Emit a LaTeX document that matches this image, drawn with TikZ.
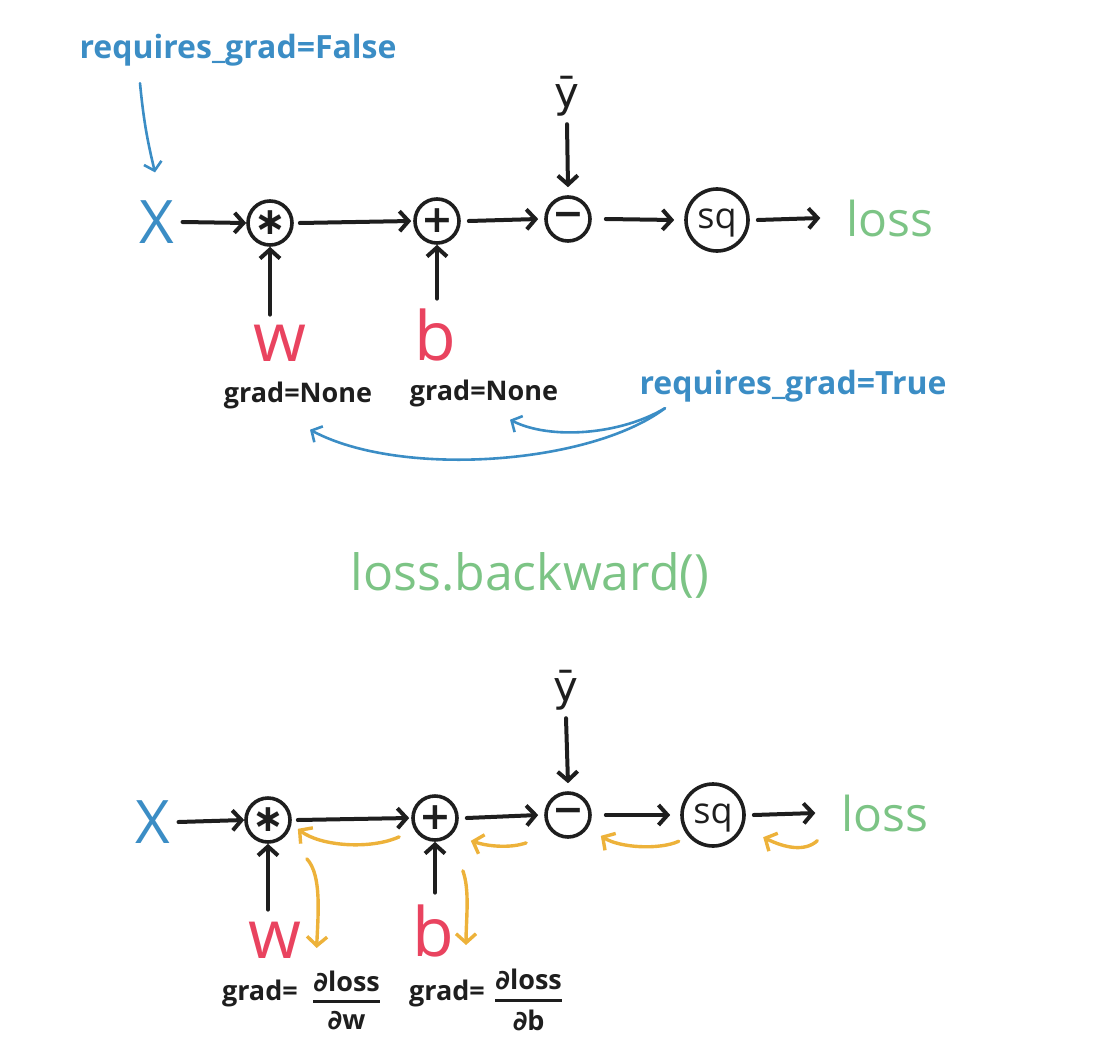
\documentclass[tikz,border=0pt]{standalone}
\usepackage{fontspec}
\usepackage{amsmath}
\setmainfont{Open Sans}
\newfontfamily\dfont{DejaVu Sans}
\usetikzlibrary{arrows.meta}
\definecolor{inkblk}{HTML}{1E1E1E}
\definecolor{skblue}{HTML}{3B8DC5}
\definecolor{skred}{HTML}{E9435F}
\definecolor{skgreen}{HTML}{7CC485}
\definecolor{skorange}{HTML}{EDB23A}
\begin{document}
\begin{tikzpicture}[x=1pt,y=-1pt,
  ink/.style={line width=4pt, draw=inkblk, line cap=round, line join=round},
  fwd/.style={ink, -{Straight Barb[length=9pt,width=20pt]}},
  bluearr/.style={line width=2.6pt, draw=skblue, line cap=round, line join=round, -{Straight Barb[length=8pt,width=18pt]}},
  orarr/.style={line width=3.4pt, draw=skorange, line cap=round, line join=round, -{Straight Barb[length=9pt,width=20pt]}},
  op/.style={circle, draw=inkblk, line width=3.6pt, minimum size=44pt, inner sep=0pt, text=inkblk, font=\fontsize{38}{40}\selectfont\dfont\bfseries},
  bigop/.style={op, minimum size=62pt, font=\fontsize{36}{38}\selectfont, text depth=2pt},
  var/.style={text=skblue, inner sep=0pt, font=\fontsize{60}{62}\selectfont},
  param/.style={text=skred, inner sep=0pt, font=\fontsize{68}{70}\selectfont},
  outtxt/.style={text=skgreen, inner sep=0pt, font=\fontsize{48}{50}\selectfont},
  note/.style={text=skblue, inner sep=0pt, font=\fontsize{32}{34}\selectfont\bfseries},
  gradtxt/.style={text=inkblk, inner sep=0pt, font=\fontsize{27}{29}\selectfont\bfseries},
  ybar/.style={text=inkblk, inner sep=0pt, font=\fontsize{42}{44}\selectfont\dfont},
]
\useasboundingbox (0,0) rectangle (1094,1054);

% ---------------- top graph ----------------
\node[note] (rgF) at (238,50) {requires\_grad=False};
\node[var] (X1) at (157,222) {X};
\node[op] (m1) at (270,223) {∗};
\node[op] (p1) at (437,221) {+};
\node[op] (s1) at (568,219) {−};
\node[bigop] (sq1) at (717,220) {sq};
\node[outtxt] (loss1) at (890,218) {loss};
\node[ybar] (yb1) at (567,96) {ȳ};
\node[param] (w1) at (280,343) {w};
\node[param] (b1) at (435,335) {b};
\node[gradtxt] (gn1a) at (298,395) {grad=None};
\node[gradtxt] (gn1b) at (484,393) {grad=None};
\node[note] (rgT) at (793,386) {requires\_grad=True};

\draw[bluearr] ([xshift=-98pt,yshift=-17pt]rgF.south) to[bend right=4] ([xshift=-2pt,yshift=28pt]X1.north);
\draw[fwd] ([xshift=8pt]X1.east) -- (m1.west);
\draw[fwd] ([xshift=6pt]m1.east) -- ([xshift=-2pt]p1.west);
\draw[fwd] ([xshift=8pt]p1.east) -- ([xshift=-6pt]s1.west);
\draw[fwd] ([xshift=14pt]s1.east) -- ([xshift=-10pt]sq1.west);
\draw[fwd] ([xshift=8pt]sq1.east) -- ([xshift=-26pt]loss1.west);
\draw[fwd] ([yshift=10pt]w1.north -| m1.south) -- (m1.south);
\draw[fwd] ([yshift=10pt]b1.north -| p1.south) -- (p1.south);
\draw[fwd] ([yshift=-8pt]yb1.south) -- ([yshift=8pt]s1.north);
\draw[bluearr] ([xshift=-128pt,yshift=-6pt]rgT.south) .. controls (620,435) and (550,440) .. ([xshift=26pt,yshift=-13pt]gn1b.south);
\draw[bluearr] ([xshift=-128pt,yshift=-6pt]rgT.south) .. controls (590,465) and (400,478) .. ([xshift=12pt,yshift=-21pt]gn1a.south);

% ---------------- middle ----------------
\node[outtxt, font=\fontsize{50}{52}\selectfont] (bw) at (530,575) {loss.backward()};

% ---------------- bottom graph ----------------
\node[var] (X2) at (153,822) {X};
\node[op] (m2) at (268,820) {∗};
\node[op] (p2) at (435,818) {+};
\node[op] (s2) at (568,815) {−};
\node[bigop] (sq2) at (713,815) {sq};
\node[outtxt] (loss2) at (885,813) {loss};
\node[ybar] (yb2) at (566,690) {ȳ};
\node[param] (w2) at (275,940) {w};
\node[param] (b2) at (433,931) {b};
\node[gradtxt, anchor=east] (gl2a) at (298,993) {grad=};
\node[gradtxt, anchor=west] (gf2a) at (312,1000) {$\genfrac{}{}{2.6pt}{0}{\text{\dfont ∂\rmfamily\bfseries loss}}{\text{\dfont ∂\rmfamily\bfseries w}}$};
\node[gradtxt, anchor=east] (gl2b) at (485,993) {grad=};
\node[gradtxt, anchor=west] (gf2b) at (494,1000) {$\genfrac{}{}{2.6pt}{0}{\text{\dfont ∂\rmfamily\bfseries loss}}{\text{\dfont ∂\rmfamily\bfseries b}}$};

\draw[fwd] ([xshift=8pt]X2.east) -- (m2.west);
\draw[fwd] ([xshift=6pt]m2.east) -- ([xshift=-2pt]p2.west);
\draw[fwd] ([xshift=8pt]p2.east) -- ([xshift=-6pt]s2.west);
\draw[fwd] ([xshift=14pt]s2.east) -- ([xshift=-10pt]sq2.west);
\draw[fwd] ([xshift=8pt]sq2.east) -- ([xshift=-26pt]loss2.west);
\draw[fwd] ([yshift=12pt]w2.north -| m2.south) -- (m2.south);
\draw[fwd] ([yshift=12pt]b2.north -| p2.south) -- (p2.south);
\draw[fwd] ([yshift=-8pt]yb2.south) -- ([yshift=8pt]s2.north);

% backward (orange) arrows
\draw[orarr] ([xshift=-19pt,yshift=-2pt]p2.south west) .. controls (370,850) and (320,846) .. ([xshift=13pt,yshift=8pt]m2.south east);
\draw[orarr] ([xshift=-25pt,yshift=-11pt]s2.south west) .. controls (512,848) and (490,847) .. ([xshift=19pt,yshift=-6pt]p2.south east);
\draw[orarr] ([xshift=-11pt,yshift=-3pt]sq2.south west) .. controls (660,850) and (620,848) .. ([xshift=16pt,yshift=-4pt]s2.south east);
\draw[orarr] ([xshift=-24pt,yshift=-9pt]loss2.south west) .. controls (805,852) and (785,848) .. ([xshift=27pt,yshift=1pt]sq2.south east);
\draw[orarr] ([xshift=22pt,yshift=-22pt]m2.south east) .. controls (322,875) and (318,915) .. ([xshift=15pt,yshift=-8pt]w2.east);
\draw[orarr] ([xshift=11pt,yshift=-36pt]p2.south east) .. controls (470,890) and (466,920) .. ([xshift=12pt,yshift=-14pt]b2.east);
\end{tikzpicture}
\end{document}
